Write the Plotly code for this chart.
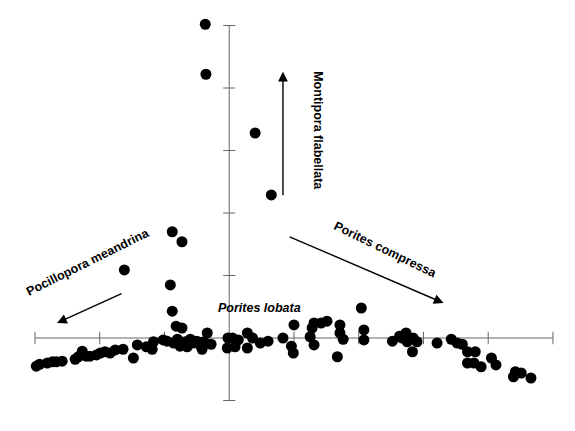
import plotly.graph_objects as go

# sample scores (axis 1 / axis 2)
pc1 = [-2.98, -2.93, -2.81, -2.73, -2.67, -2.58, -2.38, -2.33, -2.27, -2.21,
       -2.15, -2.05, -1.99, -1.92, -1.84, -1.76, -1.64, -1.48, -1.42, -1.28,
       -1.19, -1.17, -1.02, -0.96,
       -1.62, -0.88, -0.73, -0.91, -0.88, -0.82, -0.73,
       -0.86, -0.76, -0.68, -0.65, -0.56, -0.45, -0.42, -0.39, -0.34, -0.28,
       -0.60, -0.50, -0.80,
       -0.02, -0.03, 0.05, 0.09, 0.14, 0.28, 0.28, 0.36, 0.48, 0.60,
       0.83, 0.96, 0.99, 1.00,
       1.25, 1.28, 1.31, 1.31, 1.42, 1.51, 1.67, 1.71, 1.71, 1.76,
       2.04, 2.08, 2.08,
       2.52, 2.63, 2.67, 2.73, 2.75, 2.83, 2.84, 2.90, 3.21, 3.43,
       3.52, 3.60, 3.68, 3.80, 3.68, 3.78, 3.89, 4.05, 4.12, 4.39,
       4.42, 4.51, 4.66,
       -0.37, -0.36, 0.40, 0.65]
pc2 = [-0.45, -0.42, -0.40, -0.38, -0.38, -0.37, -0.34, -0.30, -0.21, -0.29,
       -0.29, -0.27, -0.24, -0.22, -0.24, -0.19, -0.18, -0.32, -0.11, -0.14,
       -0.18, -0.06, -0.03, -0.05,
       1.09, 1.70, 1.54, 0.85, 0.43, 0.19, 0.16,
       -0.08, -0.13, -0.06, -0.14, -0.08, -0.11, -0.18, -0.06, 0.08, -0.10,
       -0.02, -0.05, -0.02,
       0.00, -0.16, 0.00, -0.14, -0.03, 0.08, -0.16, 0.00, -0.08, -0.05,
       0.00, -0.13, -0.24, 0.21,
       0.02, 0.16, -0.11, 0.24, 0.24, 0.27, -0.30, 0.21, 0.08, -0.02,
       0.48, 0.13, -0.03,
       -0.05, 0.03, 0.00, 0.08, -0.06, -0.22, 0.00, -0.06, -0.08, -0.02,
       -0.08, -0.10, -0.22, -0.22, -0.40, -0.40, -0.46, -0.32, -0.43, -0.62,
       -0.54, -0.56, -0.64,
       5.02, 4.22, 3.28, 2.29]

x_ticks = [-3, -2, -1, 0, 1, 2, 3, 4, 5]
y_ticks = [-1, 0, 1, 2, 3, 4, 5]

# species labels: text, x, y, angle, arrow tail (x, y), arrow head (x, y)
labels = ["Montipora flabellata", "Porites compressa", "Pocillopora meandrina", "Porites lobata"]
label_x = [1.37, 2.42, -2.18, 0.46]
label_y = [3.31, 1.41, 1.22, 0.48]
label_angle = [90, 26, -26.5, 0]
arrow_tail = [(0.83, 2.26), (0.91, 1.63), (-1.64, 0.72)]
arrow_head = [(0.83, 4.26), (3.31, 0.56), (-2.66, 0.24)]

axis_col = "#666666"
tick_len_y = 0.1
tick_len_x = 0.093

fig = go.Figure()

# axes crossing at the origin
fig.add_trace(go.Scatter(x=[x_ticks[0], x_ticks[-1]], y=[0, 0], mode="lines",
                         line=dict(color=axis_col, width=1), hoverinfo="skip"))
fig.add_trace(go.Scatter(x=[0, 0], y=[y_ticks[0], y_ticks[-1]], mode="lines",
                         line=dict(color=axis_col, width=1), hoverinfo="skip"))

tx, ty = [], []
for t in x_ticks:
    tx += [t, t, None]
    ty += [-tick_len_y, tick_len_y, None]
for t in y_ticks:
    tx += [-tick_len_x, tick_len_x, None]
    ty += [t, t, None]
fig.add_trace(go.Scatter(x=tx, y=ty, mode="lines",
                         line=dict(color=axis_col, width=1), hoverinfo="skip"))

fig.add_trace(go.Scatter(x=pc1, y=pc2, mode="markers",
                         marker=dict(color="black", size=11, line=dict(width=0))))

font_b = dict(family="Liberation Sans, Arial", size=12.5, color="black")
for i, txt in enumerate(labels):
    t = "<b>" + txt + "</b>"
    if i == 3:
        t = "<b><i>" + txt + "</i></b>"
    fig.add_annotation(x=label_x[i], y=label_y[i], text=t, showarrow=False,
                       textangle=label_angle[i], font=font_b)

for (x0, y0), (x1, y1) in zip(arrow_tail, arrow_head):
    fig.add_annotation(x=x1, y=y1, ax=x0, ay=y0, xref="x", yref="y",
                       axref="x", ayref="y", text="", showarrow=True,
                       arrowhead=2, arrowsize=1.4, arrowwidth=1.4,
                       arrowcolor="black")

# ranges shifted to offset the page's 8px body margin
fig.update_layout(width=575, height=431, showlegend=False,
                  margin=dict(l=0, r=0, t=0, b=0),
                  paper_bgcolor="white", plot_bgcolor="white")
fig.update_xaxes(range=[-3.417, 5.464], visible=False)
fig.update_yaxes(range=[-1.616, 5.28], visible=False)

fig.write_html("out.html")
